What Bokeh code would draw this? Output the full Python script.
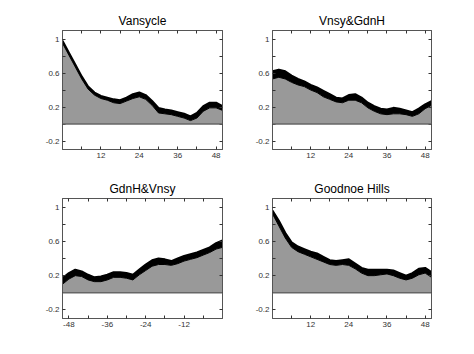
from bokeh.plotting import figure
from bokeh.layouts import column, row
from bokeh.models import FixedTicker, LinearAxis, CustomJSTickFormatter, Span
from bokeh.embed import file_html
from bokeh.resources import INLINE

# ---- data ----
lags_pos = list(range(0, 51, 2))
lags_neg = list(range(-50, 1, 2))

vansycle_upper = [0.98, 0.84, 0.70, 0.56, 0.44, 0.37, 0.33, 0.31, 0.29, 0.28, 0.31, 0.35, 0.37,
                  0.34, 0.27, 0.19, 0.17, 0.16, 0.14, 0.12, 0.09, 0.13, 0.21, 0.25, 0.25, 0.21]
vansycle_lower = [0.95, 0.81, 0.67, 0.53, 0.41, 0.34, 0.30, 0.28, 0.25, 0.24, 0.27, 0.30, 0.32,
                  0.29, 0.22, 0.13, 0.12, 0.11, 0.09, 0.07, 0.04, 0.07, 0.15, 0.19, 0.19, 0.16]

vg_upper = [0.62, 0.64, 0.62, 0.57, 0.53, 0.50, 0.46, 0.43, 0.39, 0.35, 0.31, 0.30, 0.34,
            0.35, 0.31, 0.25, 0.21, 0.18, 0.17, 0.19, 0.18, 0.16, 0.14, 0.18, 0.23, 0.27]
vg_lower = [0.53, 0.55, 0.53, 0.49, 0.46, 0.44, 0.40, 0.37, 0.32, 0.29, 0.26, 0.25, 0.28,
            0.28, 0.25, 0.19, 0.15, 0.12, 0.11, 0.12, 0.12, 0.11, 0.09, 0.12, 0.18, 0.22]

gv_upper = [0.17, 0.23, 0.27, 0.25, 0.21, 0.18, 0.19, 0.21, 0.24, 0.24, 0.23, 0.21, 0.27,
            0.33, 0.38, 0.40, 0.39, 0.37, 0.40, 0.43, 0.45, 0.47, 0.50, 0.53, 0.58, 0.61]
gv_lower = [0.10, 0.16, 0.20, 0.19, 0.15, 0.13, 0.13, 0.15, 0.18, 0.18, 0.17, 0.15, 0.21,
            0.26, 0.31, 0.33, 0.33, 0.32, 0.34, 0.37, 0.39, 0.41, 0.44, 0.47, 0.51, 0.53]

goodnoe_upper = [0.96, 0.84, 0.70, 0.59, 0.54, 0.51, 0.48, 0.46, 0.42, 0.38, 0.37, 0.38, 0.39,
                 0.34, 0.29, 0.27, 0.27, 0.27, 0.27, 0.26, 0.23, 0.20, 0.23, 0.28, 0.29, 0.24]
goodnoe_lower = [0.92, 0.78, 0.64, 0.53, 0.48, 0.45, 0.42, 0.39, 0.36, 0.33, 0.32, 0.33, 0.32,
                 0.28, 0.23, 0.20, 0.20, 0.21, 0.22, 0.20, 0.17, 0.15, 0.17, 0.21, 0.23, 0.18]

titles = ["Vansycle", "Vnsy&GdnH", "GdnH&Vnsy", "Goodnoe Hills"]
x_major_pos = [12, 24, 36, 48]
x_minor_pos = [6, 18, 30, 42]
x_major_neg = [-48, -36, -24, -12]
x_minor_neg = [-42, -30, -18, -6]
y_major = [-0.2, 0.2, 0.6, 1.0]
y_minor = [0.0, 0.4, 0.8]

FONT = "Liberation Sans"

ylab = CustomJSTickFormatter(code="return (Math.abs(tick-1)<1e-9) ? '1' : tick.toFixed(1);")
xlab = CustomJSTickFormatter(code="return tick.toFixed(0);")


def blank():
    return CustomJSTickFormatter(code="return '';")


def style_axis(ax):
    ax.major_tick_in = 3
    ax.major_tick_out = 0
    ax.minor_tick_in = 3
    ax.minor_tick_out = 0
    ax.axis_line_color = "#555555"
    ax.major_tick_line_color = "#333333"
    ax.minor_tick_line_color = "#333333"
    ax.major_label_text_font = FONT
    ax.major_label_text_font_size = "8px"
    ax.major_label_text_color = "#333333"
    ax.major_label_standoff = 3


def panel(title, lags, upper, lower, xr, xmaj, xmin, bl, br, bt, bb, fw, fh):
    p = figure(frame_width=fw, frame_height=fh, x_range=xr, y_range=(-0.3, 1.1),
               toolbar_location=None, output_backend="svg",
               min_border_left=bl, min_border_right=br, min_border_top=bt, min_border_bottom=bb)
    p.title.text = title
    p.title.align = "center"
    p.title.text_font = FONT
    p.title.text_font_size = "12px"
    p.title.text_font_style = "normal"
    p.title.text_color = "#000000"
    p.title.standoff = 5
    p.xgrid.visible = False
    p.ygrid.visible = False
    p.outline_line_color = "#555555"
    p.background_fill_color = "white"
    p.border_fill_color = "white"

    p.varea(x=lags, y1=[0] * len(lags), y2=lower, fill_color="#999999")
    p.varea(x=lags, y1=lower, y2=upper, fill_color="#000000")
    p.line(x=lags, y=upper, line_color="#000000", line_width=2, line_join="round")
    p.line(x=lags, y=lower, line_color="#000000", line_width=1, line_join="round")
    p.add_layout(Span(location=0, dimension="width", line_color="#666666", line_width=1.5))

    xt = FixedTicker(ticks=xmaj, minor_ticks=xmin)
    yt = FixedTicker(ticks=y_major, minor_ticks=y_minor)
    p.xaxis[0].ticker = xt
    p.xaxis[0].formatter = xlab
    p.yaxis[0].ticker = yt
    p.yaxis[0].formatter = ylab
    style_axis(p.xaxis[0])
    style_axis(p.yaxis[0])

    top = LinearAxis(ticker=xt, formatter=blank())
    style_axis(top)
    top.major_label_standoff = 0
    p.add_layout(top, "above")
    right = LinearAxis(ticker=yt, formatter=blank())
    style_axis(right)
    right.major_label_standoff = 0
    p.add_layout(right, "right")
    return p


p1 = panel(titles[0], lags_pos, vansycle_upper, vansycle_lower, (0, 50), x_major_pos, x_minor_pos,
           62, 15, 30, 28, 160, 119)
p2 = panel(titles[1], lags_pos, vg_upper, vg_lower, (0, 50), x_major_pos, x_minor_pos,
           35, 43, 30, 28, 159, 119)
p3 = panel(titles[2], lags_neg, gv_upper, gv_lower, (-50, 0), x_major_neg, x_minor_neg,
           62, 15, 19, 38, 160, 120)
p4 = panel(titles[3], lags_pos, goodnoe_upper, goodnoe_lower, (0, 50), x_major_pos, x_minor_pos,
           35, 43, 19, 38, 159, 120)

layout = column(row(p1, p2, spacing=0), row(p3, p4, spacing=0), spacing=0)

with open("out.html", "w") as f:
    f.write(file_html(layout, INLINE))
